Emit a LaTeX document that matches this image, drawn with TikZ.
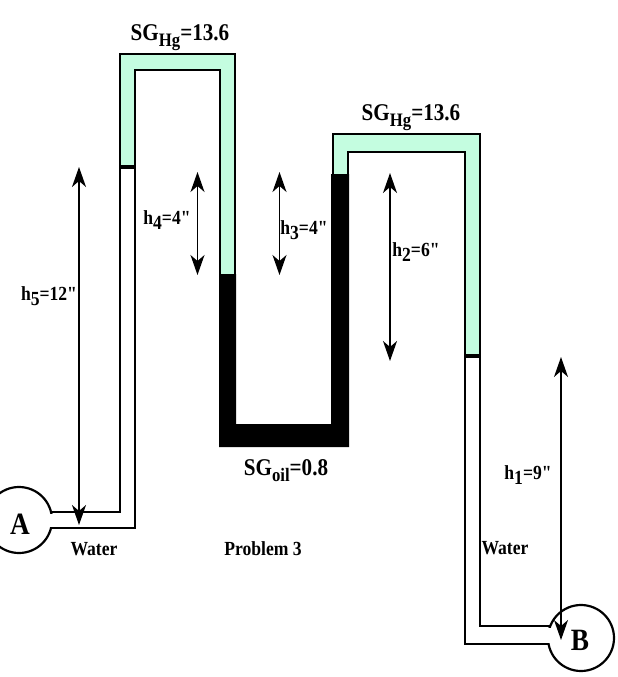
\documentclass[tikz,border=0pt]{standalone}
\usepackage{fontspec}
\newfontfamily\lblfont[FakeStretch=0.88]{Liberation Serif}
\usepackage{tikz}
\usetikzlibrary{arrows.meta,positioning}
\definecolor{hgmint}{RGB}{196,253,224}
\tikzstyle{pipe} = [line width=2.5pt,black]
\tikzstyle{arrow} = [line width=1.4pt,{Stealth[length=20pt,width=14pt,inset=6pt]}-{Stealth[length=20pt,width=14pt,inset=6pt]}]
\tikzstyle{vessel} = [circle, draw=black, line width=2.2pt, minimum size=66pt, inner sep=0pt]
\tikzstyle{lbl} = [font=\lblfont\bfseries\fontsize{20}{20}\selectfont, inner sep=0pt]
\tikzstyle{biglbl} = [font=\lblfont\bfseries\fontsize{24}{24}\selectfont, inner sep=0pt]
\tikzstyle{namelbl} = [font=\lblfont\bfseries\fontsize{31}{31}\selectfont, inner sep=0pt]
\newcommand{\lowtxt}[2][-5pt]{\raisebox{#1}{#2}}
\begin{document}
\begin{tikzpicture}[x=1pt,y=-1pt]
\useasboundingbox (0,0) rectangle (618,677);
\clip (0,0) rectangle (618,677);
% Vessels
\node[vessel] (vesselA) at (19,520) {};
\node[vessel] (vesselB) at (581,638) {};
\node[namelbl] (nameA) at (20,524) {A};
\node[namelbl] (nameB) at (580,640) {B};
% Mercury, first bend
\fill[hgmint] (120,167) -- (120,54) -- (235,54) -- (235,274) -- (220,274) -- (220,70) -- (135,70) -- (135,167) -- cycle;
% Mercury, second bend
\fill[hgmint] (333,174) -- (333,134) -- (480,134) -- (480,356) -- (465,356) -- (465,152) -- (348,152) -- (348,174) -- cycle;
% Oil
\fill[black] (219,274) -- (236,274) -- (236,424) -- (331,424) -- (331,174) -- (349,174) -- (349,447) -- (219,447) -- cycle;
% Openings into the vessels
\fill[white] (44,513.5) rectangle (60,526.5);
\fill[white] (540,627.5) rectangle (556,642.5);
% Walls of the tube
\draw[pipe] (52,512) -- (120,512) -- (120,54) -- (235,54) -- (235,274);
\draw[pipe] (50,528) -- (135,528) -- (135,70) -- (220,70) -- (220,274);
\draw[pipe] (333,174) -- (333,134) -- (480,134) -- (480,626) -- (550,626);
\draw[pipe] (348,174) -- (348,152) -- (465,152) -- (465,644) -- (549,644);
% Interfaces
\draw[line width=3.5pt] (120,167) -- (135,167);
\draw[line width=3.5pt] (465,356) -- (480,356);
% Heights
\coordinate (h5top) at (79,167);
\coordinate (h5bot) at (79,525);
\coordinate (h4top) at (197.5,172);
\coordinate (h4bot) at (197.5,275);
\coordinate (h3top) at (279.5,172);
\coordinate (h3bot) at (279.5,275);
\coordinate (h2top) at (390,173);
\coordinate (h2bot) at (390,361);
\coordinate (h1top) at (561,357);
\coordinate (h1bot) at (561,640);
\draw[arrow] (h5top) -- (h5bot);
\draw[arrow] (h4top) -- (h4bot);
\draw[arrow] (h3top) -- (h3bot);
\draw[arrow] (h2top) -- (h2bot);
\draw[arrow] (h1top) -- (h1bot);
% Labels
\node[biglbl] (sg1) at (180,38) {SG\lowtxt[-6pt]{\fontsize{19}{19}\selectfont Hg}=13.6};
\node[biglbl] (sg2) at (411,118) {SG\lowtxt[-6pt]{\fontsize{19}{19}\selectfont Hg}=13.6};
\node[biglbl] (sg3) at (286,471) {SG\lowtxt[-6pt]{\fontsize{19}{19}\selectfont oil}=0.8};
\node[lbl] (lblh5) at (49,296) {h\lowtxt{5}=12"};
\node[lbl] (lblh4) at (167,220) {h\lowtxt{4}=4"};
\node[lbl] (lblh3) at (304,230) {h\lowtxt{3}=4"};
\node[lbl] (lblh2) at (416,252) {h\lowtxt{2}=6"};
\node[lbl] (lblh1) at (528,475) {h\lowtxt{1}=9"};
\node[lbl] (waterA) at (94,549) {Water};
\node[lbl] (waterB) at (505,548) {Water};
\node[lbl] (title) at (263,549) {Problem 3};
\end{tikzpicture}
\end{document}
